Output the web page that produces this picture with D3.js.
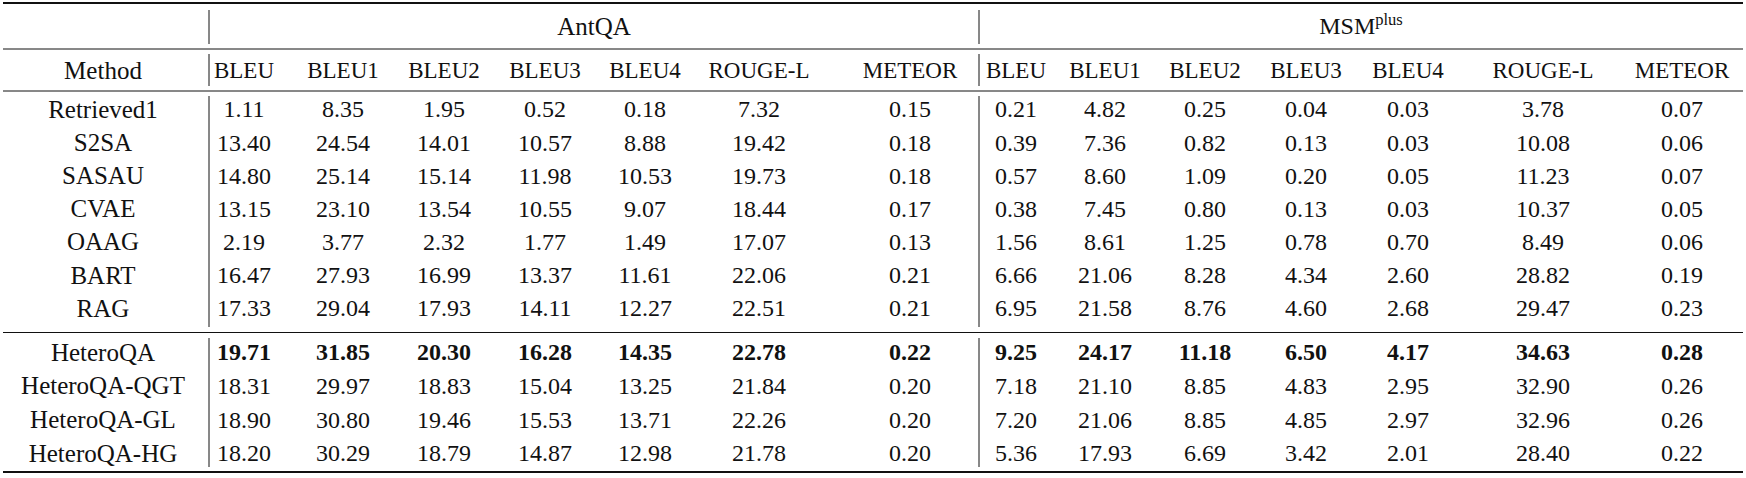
<!DOCTYPE html>
<html>
<head>
<meta charset="utf-8">
<script src="https://cdn.jsdelivr.net/npm/d3@7"></script>
<style>
  html, body { margin: 0; padding: 0; background: #fff; }
  svg { display: block; }
</style>
</head>
<body>
<svg id="chart" width="1746" height="478"></svg>
<script>
// ---------------- data ----------------
const datasets = ["AntQA", "MSM"];
const metrics = ["BLEU", "BLEU1", "BLEU2", "BLEU3", "BLEU4", "ROUGE-L", "METEOR"];
const baselineMethods = ["Retrieved1", "S2SA", "SASAU", "CVAE", "OAAG", "BART", "RAG"];
const ourMethods = ["HeteroQA", "HeteroQA-QGT", "HeteroQA-GL", "HeteroQA-HG"];

const antqaValues = [
  [1.11, 8.35, 1.95, 0.52, 0.18, 7.32, 0.15],
  [13.40, 24.54, 14.01, 10.57, 8.88, 19.42, 0.18],
  [14.80, 25.14, 15.14, 11.98, 10.53, 19.73, 0.18],
  [13.15, 23.10, 13.54, 10.55, 9.07, 18.44, 0.17],
  [2.19, 3.77, 2.32, 1.77, 1.49, 17.07, 0.13],
  [16.47, 27.93, 16.99, 13.37, 11.61, 22.06, 0.21],
  [17.33, 29.04, 17.93, 14.11, 12.27, 22.51, 0.21],
  [19.71, 31.85, 20.30, 16.28, 14.35, 22.78, 0.22],
  [18.31, 29.97, 18.83, 15.04, 13.25, 21.84, 0.20],
  [18.90, 30.80, 19.46, 15.53, 13.71, 22.26, 0.20],
  [18.20, 30.29, 18.79, 14.87, 12.98, 21.78, 0.20]
];
const msmValues = [
  [0.21, 4.82, 0.25, 0.04, 0.03, 3.78, 0.07],
  [0.39, 7.36, 0.82, 0.13, 0.03, 10.08, 0.06],
  [0.57, 8.60, 1.09, 0.20, 0.05, 11.23, 0.07],
  [0.38, 7.45, 0.80, 0.13, 0.03, 10.37, 0.05],
  [1.56, 8.61, 1.25, 0.78, 0.70, 8.49, 0.06],
  [6.66, 21.06, 8.28, 4.34, 2.60, 28.82, 0.19],
  [6.95, 21.58, 8.76, 4.60, 2.68, 29.47, 0.23],
  [9.25, 24.17, 11.18, 6.50, 4.17, 34.63, 0.28],
  [7.18, 21.10, 8.85, 4.83, 2.95, 32.90, 0.26],
  [7.20, 21.06, 8.85, 4.85, 2.97, 32.96, 0.26],
  [5.36, 17.93, 6.69, 3.42, 2.01, 28.40, 0.22]
];

// ---------------- layout ----------------
const W = 1746, H = 478;
const FONT = "'Liberation Serif', 'Times New Roman', serif";
const FS_NUM = 24, FS_HDR = 23, FS_NAME = 25;
const INK = "#111";
const left = 3, right = 1743;
const vLines = [209, 979];

const colKeys = ["Method"]
  .concat(metrics.map(m => "AntQA|" + m))
  .concat(metrics.map(m => "MSM|" + m));
const colX = d3.scaleOrdinal()
  .domain(colKeys)
  .range([103, 244, 343, 444, 545, 645, 759, 910, 1016, 1105, 1205, 1306, 1408, 1543, 1682]);
const groupX = d3.scaleOrdinal().domain(datasets).range([594, 1361]);

const yBase = d3.scalePoint().domain(baselineMethods).range([109, 308]);
const yOurs = d3.scalePoint().domain(ourMethods).range([352, 453]);
const allMethods = baselineMethods.concat(ourMethods);
const rowY = m => baselineMethods.includes(m) ? yBase(m) : yOurs(m);

const rules = [
  {y: 3, w: 2},
  {y: 49, w: 1},
  {y: 91, w: 1},
  {y: 332.5, w: 1.2},
  {y: 472, w: 2}
];
const vSegments = [[10, 44], [54, 86], [96, 327], [338, 467]];

const fmt = d3.format(".2f");

// ---------------- draw ----------------
const svg = d3.select("#chart");
svg.append("rect").attr("width", W).attr("height", H).attr("fill", "#fff");

svg.selectAll("line.rule").data(rules).join("line")
  .attr("class", "rule")
  .attr("x1", left).attr("x2", right)
  .attr("y1", d => d.y).attr("y2", d => d.y)
  .attr("stroke", INK).attr("stroke-width", d => d.w);

vLines.forEach(x => {
  svg.selectAll(null).data(vSegments).join("line")
    .attr("x1", x).attr("x2", x)
    .attr("y1", d => d[0]).attr("y2", d => d[1])
    .attr("stroke", INK).attr("stroke-width", 1);
});

const txt = svg.append("g")
  .attr("font-family", FONT)
  .attr("fill", INK)
  .attr("text-anchor", "middle");

// group header
txt.append("text").attr("x", groupX("AntQA")).attr("y", 26).attr("dy", "0.35em")
  .attr("font-size", FS_NAME).text("AntQA");
const gMsm = txt.append("text").attr("x", groupX("MSM")).attr("y", 26).attr("dy", "0.35em")
  .attr("font-size", FS_HDR + 1);
gMsm.append("tspan").text("MSM");
gMsm.append("tspan").attr("font-size", FS_HDR * 0.72).attr("dy", "-0.55em").text("plus");

// column header row
txt.selectAll("text.hdr").data(colKeys).join("text")
  .attr("class", "hdr")
  .attr("x", d => colX(d))
  .attr("y", 70).attr("dy", "0.35em")
  .attr("font-size", d => d === "Method" ? FS_NAME : FS_HDR)
  .text(d => d === "Method" ? "Method" : d.split("|")[1]);

// method names
txt.selectAll("text.method").data(allMethods).join("text")
  .attr("class", "method")
  .attr("x", colX("Method"))
  .attr("y", d => rowY(d)).attr("dy", "0.35em")
  .attr("font-size", FS_NAME)
  .text(d => d);

// values
const tables = {AntQA: antqaValues, MSM: msmValues};
const cells = [];
datasets.forEach(ds => {
  const vals = tables[ds];
  metrics.forEach((m, j) => {
    const best = d3.max(vals, r => r[j]);
    allMethods.forEach((meth, i) => {
      cells.push({ds, m, meth, v: vals[i][j], bold: vals[i][j] === best});
    });
  });
});
txt.selectAll("text.cell").data(cells).join("text")
  .attr("class", "cell")
  .attr("x", d => colX(d.ds + "|" + d.m))
  .attr("y", d => rowY(d.meth)).attr("dy", "0.35em")
  .attr("font-size", FS_NUM)
  .attr("font-weight", d => d.bold ? "bold" : null)
  .text(d => fmt(d.v));
</script>
</body>
</html>
